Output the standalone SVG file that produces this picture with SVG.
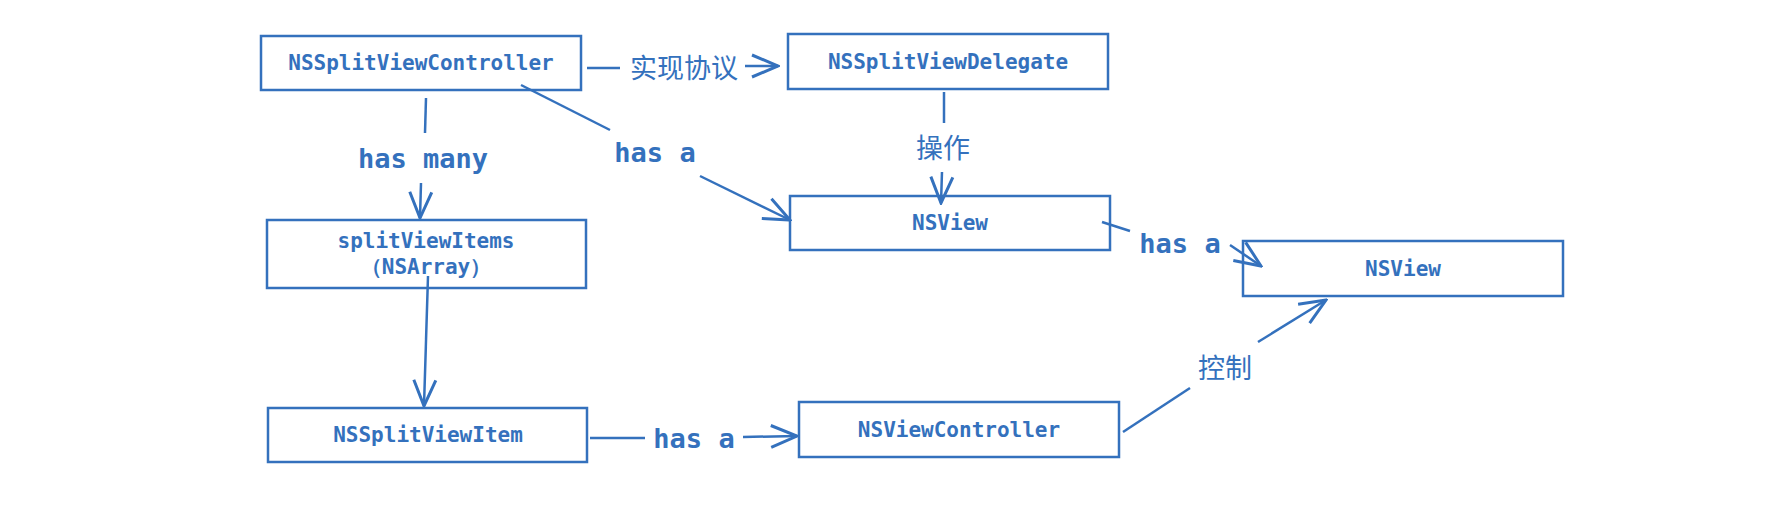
<svg xmlns="http://www.w3.org/2000/svg" width="1766" height="526" viewBox="0 0 1766 526">
<defs>
<marker id="ah" viewBox="0 0 30 30" refX="28" refY="15" markerWidth="30" markerHeight="30" markerUnits="userSpaceOnUse" orient="auto"><path d="M2 4 L28 15 L2 26" fill="none" stroke="#3471bd" stroke-width="3"/></marker>
</defs>
<style>
.box{fill:#fff;stroke:#3471bd;stroke-width:2.5}
.t{font-family:"DejaVu Sans Mono","Liberation Mono",monospace;font-weight:bold;fill:#3471bd;text-anchor:middle;dominant-baseline:central}
.n{font-size:21px}
.l{font-size:27px}
.c{fill:none;stroke:#3471bd;stroke-width:2.5}
.z{font-family:"Noto Sans CJK SC",sans-serif;font-weight:normal}
</style>
<rect width="1766" height="526" fill="#fff"/>
<g id="n1"><rect class="box" x="261" y="36" width="320" height="54"/><text class="t n" x="421" y="63">NSSplitViewController</text></g>
<g id="n2"><rect class="box" x="788" y="34" width="320" height="55"/><text class="t n" x="948" y="62">NSSplitViewDelegate</text></g>
<g id="n3"><rect class="box" x="790" y="196" width="320" height="54"/><text class="t n" x="950" y="223">NSView</text></g>
<g id="n4"><rect class="box" x="1243" y="241" width="320" height="55"/><text class="t n" x="1403" y="269">NSView</text></g>
<g id="n5"><rect class="box" x="267" y="220" width="319" height="68"/><text class="t n" x="426" y="241">splitViewItems</text><text class="t n" x="426" y="267">（NSArray）</text></g>
<g id="n6"><rect class="box" x="268" y="408" width="319" height="54"/><text class="t n" x="428" y="435">NSSplitViewItem</text></g>
<g id="n7"><rect class="box" x="799" y="402" width="320" height="55"/><text class="t n" x="959" y="430">NSViewController</text></g>
<g id="connectors">
<line class="c" x1="587" y1="68" x2="620" y2="68"/>
<text class="t l z" x="684" y="66">实现协议</text>
<line class="c" x1="745" y1="66" x2="778" y2="66" marker-end="url(#ah)"/>
<line class="c" x1="426" y1="98" x2="425" y2="133"/>
<text class="t l" x="423" y="158">has many</text>
<line class="c" x1="421" y1="183" x2="420" y2="218" marker-end="url(#ah)"/>
<line class="c" x1="521" y1="85" x2="610" y2="130"/>
<text class="t l" x="655" y="152">has a</text>
<line class="c" x1="700" y1="176" x2="790" y2="220" marker-end="url(#ah)"/>
<line class="c" x1="944" y1="92" x2="944" y2="123"/>
<text class="t l z" x="943" y="146">操作</text>
<line class="c" x1="942" y1="172" x2="941" y2="203" marker-end="url(#ah)"/>
<line class="c" x1="1102" y1="222" x2="1130" y2="231"/>
<text class="t l" x="1180" y="243">has a</text>
<line class="c" x1="1230" y1="245" x2="1261" y2="266" marker-end="url(#ah)"/>
<line class="c" x1="428" y1="276" x2="424" y2="406" marker-end="url(#ah)"/>
<line class="c" x1="590" y1="438" x2="645" y2="438"/>
<text class="t l" x="694" y="438">has a</text>
<line class="c" x1="743" y1="437" x2="797" y2="436" marker-end="url(#ah)"/>
<line class="c" x1="1123" y1="432" x2="1190" y2="388"/>
<text class="t l z" x="1225" y="366">控制</text>
<line class="c" x1="1258" y1="342" x2="1326" y2="300" marker-end="url(#ah)"/>
</g>
</svg>
